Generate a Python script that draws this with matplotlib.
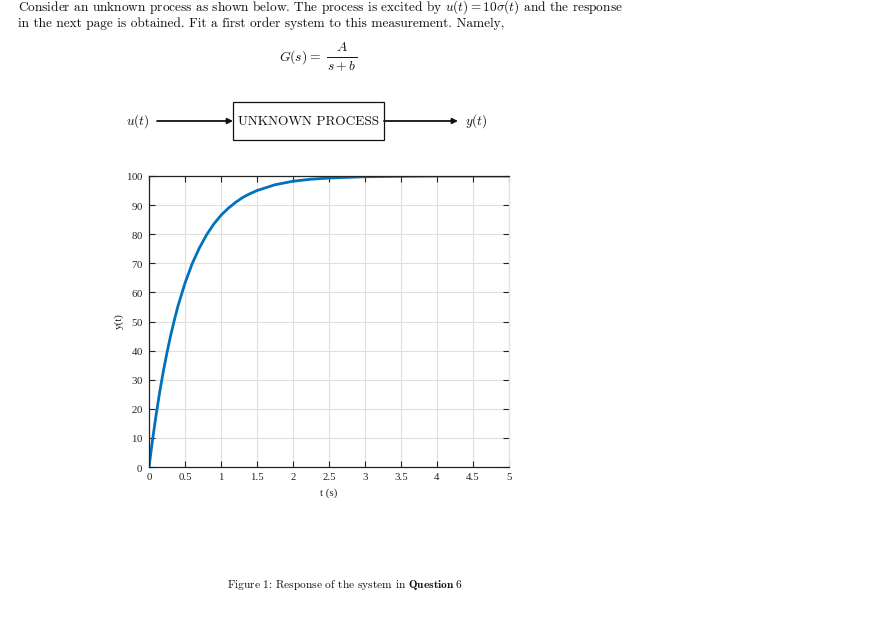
import matplotlib
matplotlib.use("Agg")
import matplotlib.pyplot as plt
import numpy as np
from matplotlib.patches import Rectangle

# valores
t = [0, 0.05, 0.1, 0.15, 0.2, 0.25, 0.3, 0.35, 0.4, 0.5, 0.6, 0.7, 0.8, 0.9, 1.0,
     1.1, 1.2, 1.3, 1.4, 1.5, 1.75, 2.0, 2.25, 2.5, 3.0, 3.5, 4.0, 4.5, 5.0]
y = [0, 9.5, 18.1, 26, 33, 39.3, 45.1, 50.3, 55.1, 63.2, 69.9, 75.3, 79.8, 83.5, 86.5,
     88.9, 90.9, 92.6, 93.9, 95.0, 97.0, 98.2, 98.9, 99.3, 99.75, 99.9, 100, 100, 100]
x_ticks = [0, 0.5, 1, 1.5, 2, 2.5, 3, 3.5, 4, 4.5, 5]
x_ticklabels = ["0", "0.5", "1", "1.5", "2", "2.5", "3", "3.5", "4", "4.5", "5"]
y_ticks = [0, 10, 20, 30, 40, 50, 60, 70, 80, 90, 100]

W, H = 894, 624
plt.rcParams['mathtext.fontset'] = 'cm'
plt.rcParams['axes.formatter.use_mathtext'] = True

fig = plt.figure(figsize=(W / 100, H / 100), dpi=100)
fig.patch.set_facecolor('white')

def px(x, yy):
    return x / W, 1 - yy / H

INK = '#111111'
TXT = dict(family='cmr10', fontsize=9.6, color=INK)

# texto de la pagina
fig.text(*px(18, 11), r"Consider an unknown process as shown below. The process is excited by $u(t) = 10\sigma(t)$ and the response",
         ha='left', va='baseline', **TXT)
fig.text(*px(18, 27), "in the next page is obtained. Fit a first order system to this measurement. Namely,",
         ha='left', va='baseline', **TXT)

# diagrama y ecuacion en un eje superpuesto
ov = fig.add_axes([0, 0, 1, 1])
ov.set_xlim(0, W)
ov.set_ylim(H, 0)
ov.axis('off')

ov.text(321, 57, r"$G(s) =$", ha='right', va='center', fontsize=9.8, color=INK)
ov.text(342, 47, r"$A$", ha='center', va='center', fontsize=9.8, color=INK)
ov.plot([327, 357], [56.5, 56.5], color=INK, lw=0.7)
ov.text(342, 66, r"$s+b$", ha='center', va='center', fontsize=9.8, color=INK)

ov.add_patch(Rectangle((233, 102), 151, 38, fill=False, ec=INK, lw=0.9))
ov.text(308.5, 121.5, "UNKNOWN PROCESS", ha='center', va='center', family='cmr10',
        fontsize=9.6, color=INK)
ov.annotate("", xy=(233, 121), xytext=(157, 121),
            arrowprops=dict(arrowstyle='-|>', color=INK, lw=1.3, shrinkA=0, shrinkB=0,
                            mutation_scale=8))
ov.annotate("", xy=(458, 121), xytext=(384, 121),
            arrowprops=dict(arrowstyle='-|>', color=INK, lw=1.3, shrinkA=0, shrinkB=0,
                            mutation_scale=8))
ov.text(138, 121, r"$u(t)$", ha='center', va='center', fontsize=9.6, color=INK)
ov.text(476, 121, r"$y(t)$", ha='center', va='center', fontsize=9.6, color=INK)

# grafico de la respuesta
ax = fig.add_axes([149 / W, 1 - 467 / H, 360 / W, 291 / H])
ax.plot(t, y, color='#0072BD', linewidth=2)
ax.set_xlim(0, 5)
ax.set_ylim(0, 100)
ax.set_xticks(x_ticks)
ax.set_xticklabels(x_ticklabels)
ax.set_yticks(y_ticks)
ax.grid(True, color='#e0e0e0', linewidth=0.8)
ax.tick_params(direction='in', length=4, width=0.8, top=True, right=True,
               labelsize=7.8, colors='#222222', pad=4)
for lab in ax.get_xticklabels() + ax.get_yticklabels():
    lab.set_family('Liberation Serif')
for s in ax.spines.values():
    s.set_linewidth(0.9)
    s.set_color('#222222')
ax.spines['right'].set_color('#e0e0e0')
ax.set_xlabel("t (s)", family='Liberation Serif', fontsize=8, color='#222222', labelpad=5)
ax.set_ylabel("y(t)", family='Liberation Serif', fontsize=8, color='#222222', labelpad=1)

fig.text(*px(345, 585), r"Figure 1: Response of the system in $\mathbf{Question\ 6}$",
         ha='center', va='center', family='cmr10', fontsize=8.2, color=INK)

fig.savefig("out.png", dpi=100)
